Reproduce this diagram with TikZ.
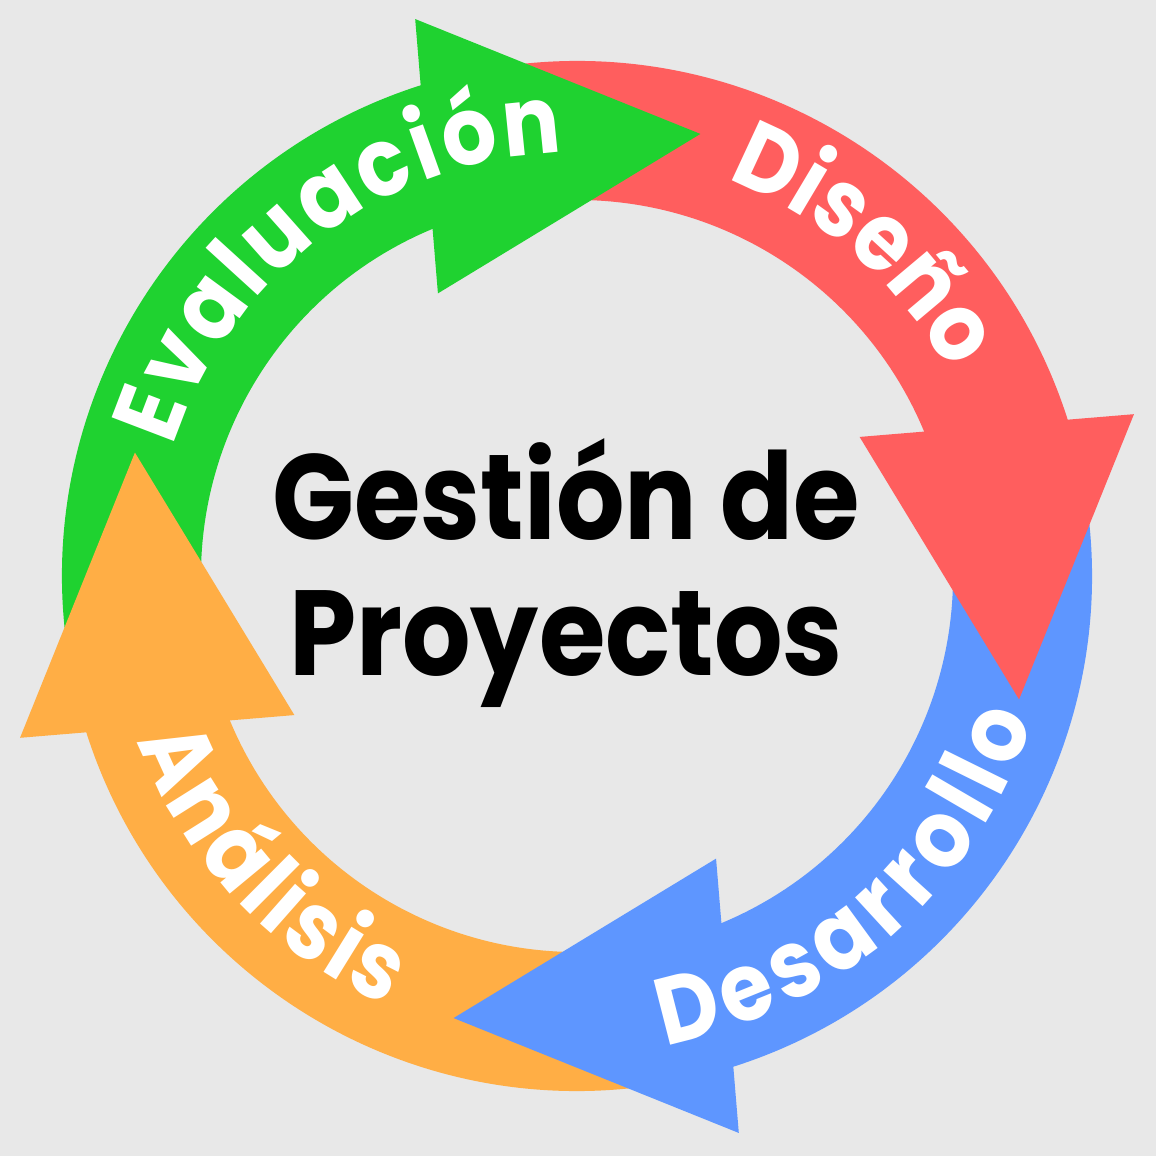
\documentclass[tikz,border=0pt]{standalone}
\usepackage{fontspec}
\setmainfont{Poppins}
\newfontfamily\rotulo{Poppins}[FakeStretch=0.9]
\newfontfamily\centro{Poppins}[FakeStretch=0.89]
\usetikzlibrary{decorations.text,positioning}
\definecolor{fondo}{RGB}{232,232,232}
\definecolor{verde}{RGB}{31,210,48}
\definecolor{rojo}{RGB}{255,94,94}
\definecolor{azul}{RGB}{94,150,255}
\definecolor{naranja}{RGB}{255,174,69}
\tikzset{
  titulo/.style={font=\centro\bfseries\fontsize{121}{121}\selectfont, text=black, inner sep=0pt},
  etiqueta/.style={decorate, decoration={text along path, text align={fit to path}, text color=white, text={|\rotulo\bfseries\fontsize{95}{95}\selectfont|#1}}},
}
\begin{document}
\begin{tikzpicture}[x=1pt, y=1pt]
  \fill[fondo] (-577,-580) rectangle (579,576);
  \useasboundingbox (-577,-580) rectangle (579,576);
  % bands of the four arrows
  \foreach \rot/\col in {0/verde, -90/rojo, -180/azul, -270/naranja} {
    \fill[\col] ({190+\rot}:515) arc[start angle={190+\rot}, end angle={107+\rot}, radius=515]
      -- ({111.9+\rot}:376) arc[start angle={111.9+\rot}, end angle={190+\rot}, radius=376] -- cycle;
  }
  % heads, on top of the next tail
  \foreach \rot/\col in {0/verde, -90/rojo, -180/azul, -270/naranja} {
    \fill[\col] ({106.2+\rot}:580) -- ({74.4+\rot}:459) -- ({116.2+\rot}:315) -- cycle;
  }
  % labels along the arrows
  \path[etiqueta=Evaluación] (162.2:424) arc[start angle=162.2, end angle=91.9, radius=424];
  \path[etiqueta=Diseño] (69.3:424) arc[start angle=69.3, end angle=29.3, radius=424];
  \path[etiqueta=Desarrollo] (-79.4:478) arc[start angle=-79.4, end angle=-17.5, radius=478];
  \path[etiqueta=Análisis] (200.6:470) arc[start angle=200.6, end angle=246, radius=470];
  % centre
  \node[titulo, anchor=base] (gestion) at (-11,36) {Gestión de};
  \node[titulo, anchor=base] (proyectos) at ([yshift=-135]gestion.base) {Proyectos};
\end{tikzpicture}
\end{document}
